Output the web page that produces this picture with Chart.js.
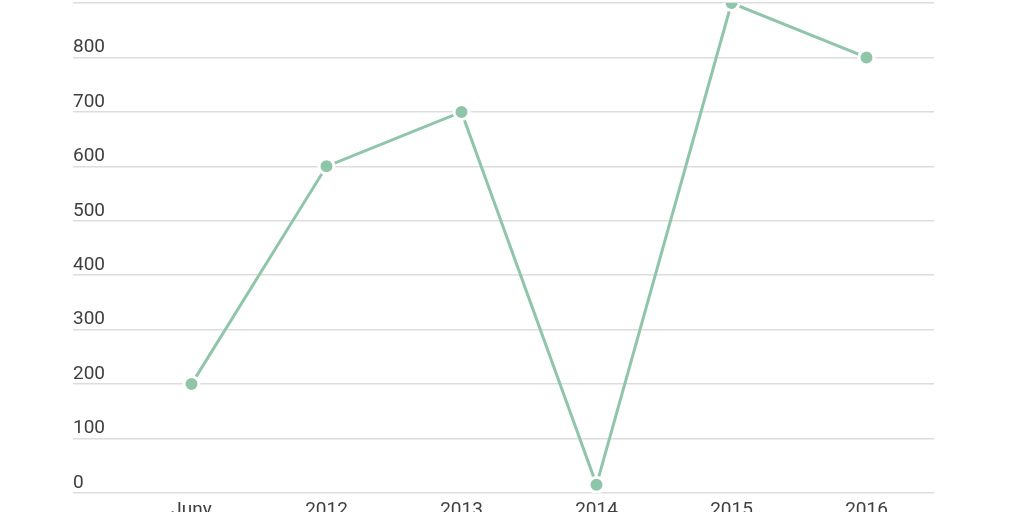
<!DOCTYPE html>
<html>
<head>
<meta charset="utf-8">
<script src="https://cdn.jsdelivr.net/npm/chart.js@4/dist/chart.umd.min.js"></script>
<style>
  html, body { margin: 0; padding: 0; background: #fff; overflow: hidden; }
  #wrap { position: absolute; left: 0; top: -40px; width: 1024px; height: 600px; }
</style>
</head>
<body>
<div id="wrap"><canvas id="chart"></canvas></div>
<script>
"use strict"

const categories = ['Juny', '2012', '2013', '2014', '2015', '2016'];
const values = [200, 600, 700, 15, 900, 800];
const yTicks = [0, 100, 200, 300, 400, 500, 600, 700, 800, 900];

const lineColor = '#8fc5a8';
const textColor = '#3f3f3f';

const chart = new Chart('chart', {
  type: 'line',
  data: {
    labels: categories,
    datasets: [{
      data: values,
      borderColor: lineColor,
      borderWidth: 3,
      backgroundColor: lineColor,
      pointBackgroundColor: lineColor,
      pointBorderColor: '#ffffff',
      pointBorderWidth: 3,
      pointRadius: 7.5,
      tension: 0,
      fill: false
    }]
  },
  options: {
    responsive: true,
    maintainAspectRatio: false,
    animation: false,
    layout: {
      padding: { left: 73, right: 90, top: 43, bottom: 17 }
    },
    plugins: {
      legend: { display: false },
      tooltip: { enabled: false }
    },
    scales: {
      x: {
        offset: true,
        grid: { display: false, drawTicks: false },
        border: { display: false },
        ticks: {
          color: textColor,
          padding: 6,
          font: { family: 'Roboto', size: 19 }
        },
        afterFit: (scale) => { scale.height = 50; }
      },
      y: {
        min: 0,
        max: 900,
        afterBuildTicks: (scale) => { scale.ticks = yTicks.map(v => ({ value: v })); },
        grid: {
          color: '#dddddd',
          lineWidth: 1.5,
          tickLength: 51,
          tickColor: '#dddddd'
        },
        border: { display: false },
        ticks: {
          color: textColor,
          crossAlign: 'far',
          labelOffset: -10,
          padding: 0,
          font: { family: 'Roboto', size: 19 }
        },
        afterFit: (scale) => { scale.width = 51; }
      }
    }
  }
});
</script>
</body>
</html>
